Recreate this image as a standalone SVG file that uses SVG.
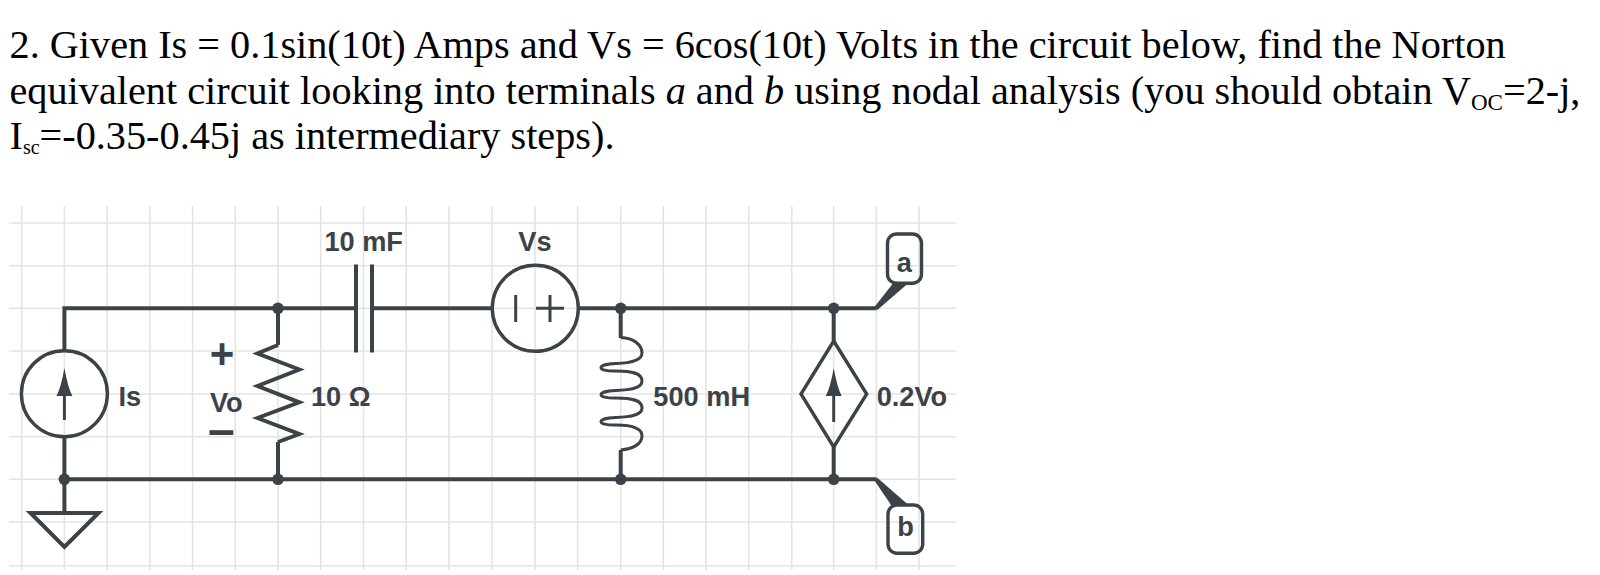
<svg xmlns="http://www.w3.org/2000/svg" width="1600" height="575" viewBox="0 0 1600 575">
<style>
.q{font-family:"Liberation Serif","Times New Roman",serif;font-size:40.25px;fill:#000}
.s{font-size:23px}
.u{font-size:20px}
.i{font-style:italic}
.l{font-family:"Liberation Sans",Arial,sans-serif;font-size:27.2px;font-weight:bold;fill:#3b4248}
.m{text-anchor:middle}
.g line{stroke:#e4e4e4;stroke-width:1.6}
.w{fill:none;stroke:#3b4248;stroke-width:4;stroke-linejoin:miter}
.t{fill:none;stroke:#3b4248;stroke-width:3.4}
.f{fill:#3b4248;stroke:none}
</style>
<rect width="1600" height="575" fill="#fff"/>
<g id="question">
<text class="q" x="9.5" y="58">2. Given Is = 0.1sin(10t) Amps and Vs = 6cos(10t) Volts in the circuit below, find the Norton</text>
<text class="q" x="9.5" y="103.5">equivalent circuit looking into terminals <tspan class="i">a</tspan> and <tspan class="i">b</tspan> using nodal analysis (you should obtain V<tspan class="s" dy="6">OC</tspan><tspan dy="-6">=2-j,</tspan></text>
<text class="q" x="9.5" y="149">I<tspan class="u" dy="5">sc</tspan><tspan dy="-5">=-0.35-0.45j as intermediary steps).</tspan></text>
</g>
<g id="grid" class="g">
<line x1="21.7" y1="206" x2="21.7" y2="570"/><line x1="64.4" y1="206" x2="64.4" y2="570"/><line x1="107.1" y1="206" x2="107.1" y2="570"/><line x1="149.9" y1="206" x2="149.9" y2="570"/><line x1="192.6" y1="206" x2="192.6" y2="570"/><line x1="235.3" y1="206" x2="235.3" y2="570"/><line x1="278" y1="206" x2="278" y2="570"/><line x1="320.7" y1="206" x2="320.7" y2="570"/><line x1="363.5" y1="206" x2="363.5" y2="570"/><line x1="406.2" y1="206" x2="406.2" y2="570"/><line x1="449" y1="206" x2="449" y2="570"/><line x1="492" y1="206" x2="492" y2="570"/><line x1="535" y1="206" x2="535" y2="570"/><line x1="577.7" y1="206" x2="577.7" y2="570"/><line x1="620.7" y1="206" x2="620.7" y2="570"/><line x1="663.3" y1="206" x2="663.3" y2="570"/><line x1="706" y1="206" x2="706" y2="570"/><line x1="748.7" y1="206" x2="748.7" y2="570"/><line x1="791.7" y1="206" x2="791.7" y2="570"/><line x1="833.7" y1="206" x2="833.7" y2="570"/><line x1="876.3" y1="206" x2="876.3" y2="570"/><line x1="919" y1="206" x2="919" y2="570"/>
<line x1="9" y1="223" x2="956" y2="223"/><line x1="9" y1="265.7" x2="956" y2="265.7"/><line x1="9" y1="308.3" x2="956" y2="308.3"/><line x1="9" y1="351" x2="956" y2="351"/><line x1="9" y1="394" x2="956" y2="394"/><line x1="9" y1="436.7" x2="956" y2="436.7"/><line x1="9" y1="479.3" x2="956" y2="479.3"/><line x1="9" y1="522" x2="956" y2="522"/><line x1="9" y1="565.7" x2="956" y2="565.7"/>
</g>
<g id="connectors">
<path class="w" d="M64.4 351V308.3H356"/>
<path class="w" d="M372 308.3H492"/>
<path class="w" d="M579 308.3H876.3"/>
<path class="w" d="M64.4 437V512"/>
<path class="w" d="M64.4 479.3H876.3"/>
<path class="w" d="M278 308.3V345"/>
<path class="w" d="M278 442V479.3"/>
<path class="w" d="M620.7 308.3V338"/>
<path class="w" d="M620.7 450V479.3"/>
<path class="w" d="M833.7 308.3V341"/>
<path class="w" d="M833.7 447V479.3"/>
<circle class="f" cx="278" cy="308.3" r="5.8"/><circle class="f" cx="278" cy="479.3" r="5.8"/><circle class="f" cx="64.4" cy="479.3" r="5.8"/><circle class="f" cx="620.7" cy="308.3" r="5.8"/><circle class="f" cx="620.7" cy="479.3" r="5.8"/><circle class="f" cx="833.7" cy="308.3" r="5.8"/><circle class="f" cx="833.7" cy="479.3" r="5.8"/>
</g>
<g id="Is">
<circle class="t" cx="64.4" cy="393.7" r="43"/>
<path class="w" d="M64.4 420V392" style="stroke-width:3"/>
<path class="f" d="M64.4 368Q61 388 56.4 396H72.4Q68 388 64.4 368Z"/>
<text class="l" x="118.5" y="405.7">Is</text>
</g>
<g id="ground"><path class="w" d="M30.5 513H98.5L64.4 547Z"/></g>
<g id="Vo">
<text class="l" x="222" y="367.6" style="font-size:42px" text-anchor="middle">+</text>
<text class="l" x="210" y="411.7">Vo</text>
<text class="l" x="221.3" y="445.8" style="font-size:48px" text-anchor="middle">–</text>
</g>
<g id="R">
<path class="w" d="M278 345L257.5 353.5L299.3 369.5L257.5 386L299.3 402.3L257.5 418L299.3 434L278 442"/>
<text class="l" x="311" y="405.7">10 Ω</text>
</g>
<g id="C">
<path class="w" d="M356 264.5V352.5M372 264.5V352.5"/>
<text class="l m" x="363.7" y="250.7">10 mF</text>
</g>
<g id="Vs">
<circle class="t" cx="535.3" cy="308.3" r="43"/>
<path class="w" d="M515.7 295V322M536 308.3H564M550 295V322" style="stroke-width:3"/>
<text class="l m" x="535" y="250.7">Vs</text>
</g>
<g id="L">
<path class="w" d="M620.7 337.5C634 338 642 345 642 353C642 360 632 363 616 363.5C596 364 596 371.5 616 371C632 371 642 373 642 381C642 388 632 390 616 390.5C596 391 596 398.5 616 398C632 398 642 400 642 408C642 415 632 417 616 417.5C596 418 596 425.5 616 425C632 425 642 428 642 436C642 444 633 449 620.7 450" style="stroke-width:3"/>
<text class="l" x="653.3" y="405.7">500 mH</text>
</g>
<g id="dep">
<path class="t" d="M833.7 341L866.7 394L833.7 447L801 394Z"/>
<path class="w" d="M833.7 422V392" style="stroke-width:3"/>
<path class="f" d="M833.7 368Q830.3 388 825.7 396H841.7Q837.3 388 833.7 368Z"/>
<text class="l" x="876.7" y="405.7">0.2Vo</text>
</g>
<g id="a">
<path class="f" d="M874.8 306.5L893.3 283H908.5L877 310.3Z"/>
<rect class="t" x="887.5" y="234" width="34" height="49.3" rx="9"/>
<text class="l m" x="904.4" y="272.3">a</text>
</g>
<g id="b">
<path class="f" d="M877 477.5L908.5 505H891L874.8 481Z"/>
<rect class="t" x="888" y="505" width="34.7" height="48.3" rx="9"/>
<text class="l m" x="905.5" y="535.7">b</text>
</g>
</svg>
